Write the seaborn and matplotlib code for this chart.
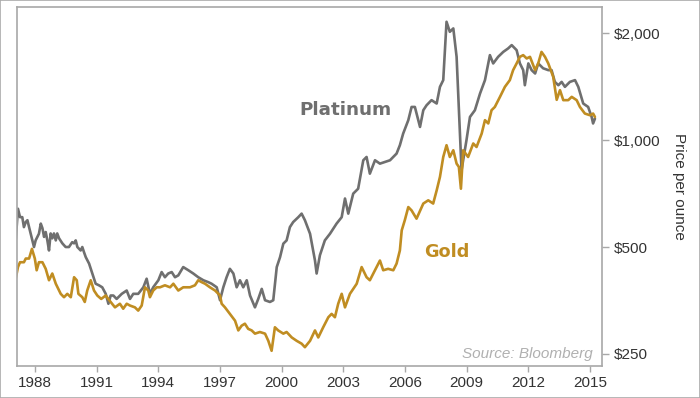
import numpy as np
import pandas as pd
import matplotlib
matplotlib.use("Agg")
import matplotlib.pyplot as plt
import seaborn as sns
from matplotlib.patches import Rectangle
from matplotlib.ticker import NullLocator

# -----------------------------
# Data
# -----------------------------
plat_years = [
    1987.06, 1987.17, 1987.27, 1987.38, 1987.46, 1987.55, 1987.63, 1987.71, 1987.87, 1987.95,
    1988.03, 1988.19, 1988.28, 1988.36, 1988.44, 1988.52, 1988.60, 1988.68, 1988.76, 1988.84,
    1988.92, 1989.01, 1989.08, 1989.17, 1989.33, 1989.49, 1989.65, 1989.81, 1989.90, 1989.98,
    1990.06, 1990.22, 1990.30, 1990.38, 1990.47, 1990.63, 1990.79, 1990.95, 1991.11, 1991.27,
    1991.44, 1991.57, 1991.68, 1991.81, 1991.97, 1992.22, 1992.46, 1992.62, 1992.78, 1993.02,
    1993.27, 1993.43, 1993.59, 1993.75, 1994.00, 1994.16, 1994.32, 1994.48, 1994.65, 1994.81,
    1994.97, 1995.21, 1995.46, 1995.70, 1995.94, 1996.19, 1996.43, 1996.59, 1996.84, 1997.00,
    1997.16, 1997.32, 1997.48, 1997.65, 1997.81, 1997.97, 1998.13, 1998.30, 1998.46, 1998.70,
    1998.86, 1999.03, 1999.19, 1999.43, 1999.59, 1999.76, 1999.92, 2000.08, 2000.24, 2000.40,
    2000.56, 2000.81, 2000.97, 2001.13, 2001.38, 2001.62, 2001.70, 2001.86, 2002.10, 2002.35,
    2002.67, 2002.92, 2003.08, 2003.24, 2003.48, 2003.72, 2003.97, 2004.13, 2004.29, 2004.54,
    2004.78, 2005.02, 2005.27, 2005.59, 2005.75, 2005.91, 2006.16, 2006.32, 2006.48, 2006.73,
    2006.89, 2007.05, 2007.29, 2007.54, 2007.70, 2007.86, 2008.02, 2008.18, 2008.35, 2008.51,
    2008.67, 2008.75, 2008.99, 2009.16, 2009.40, 2009.65, 2009.89, 2010.13, 2010.29, 2010.53,
    2010.78, 2011.02, 2011.19, 2011.43, 2011.59, 2011.75, 2011.83, 2012.00, 2012.16, 2012.33,
    2012.48, 2012.72, 2012.97, 2013.13, 2013.29, 2013.46, 2013.62, 2013.78, 2014.02, 2014.27,
    2014.43, 2014.67, 2014.91, 2015.08, 2015.15, 2015.24,
]
plat_price = [
    522, 641, 607, 607, 569, 588, 595, 569, 522, 500,
    522, 545, 582, 565, 534, 551, 522, 489, 546, 529,
    546, 522, 546, 529, 512, 500, 500, 516, 512, 522,
    500, 489, 500, 484, 468, 449, 421, 394, 390, 385,
    369, 346, 365, 365, 357, 369, 377, 357, 369, 369,
    385, 407, 369, 385, 403, 425, 411, 421, 425, 411,
    416, 439, 430, 421, 411, 403, 398, 394, 385, 354,
    385, 411, 434, 421, 385, 403, 385, 403, 365, 338,
    357, 381, 354, 350, 354, 439, 468, 511, 522, 569,
    588, 607, 621, 595, 545, 458, 421, 474, 522, 545,
    582, 607, 685, 621, 707, 730, 878, 897, 805, 878,
    859, 868, 878, 917, 968, 1044, 1139, 1241, 1241, 1090,
    1215, 1255, 1297, 1269, 1414, 1477, 2157, 2021, 2066, 1718,
    1044, 823, 1000, 1163, 1215, 1354, 1477, 1737, 1646, 1718,
    1774, 1815, 1854, 1794, 1646, 1576, 1429, 1646, 1576, 1542,
    1646, 1595, 1576, 1576, 1460, 1429, 1460, 1414, 1460, 1477,
    1414, 1269, 1241, 1163, 1115, 1150,
]

gold_years = [
    1987.06, 1987.17, 1987.27, 1987.46, 1987.55, 1987.71, 1987.85, 1987.99, 1988.08, 1988.19,
    1988.36, 1988.52, 1988.68, 1988.84, 1989.01, 1989.25, 1989.41, 1989.57, 1989.74, 1989.90,
    1990.03, 1990.11, 1990.30, 1990.42, 1990.54, 1990.71, 1990.87, 1991.03, 1991.22, 1991.44,
    1991.68, 1991.89, 1992.13, 1992.29, 1992.46, 1992.62, 1992.86, 1993.02, 1993.19, 1993.35,
    1993.51, 1993.59, 1993.75, 1993.92, 1994.08, 1994.32, 1994.57, 1994.73, 1994.97, 1995.21,
    1995.54, 1995.78, 1995.94, 1996.11, 1996.27, 1996.51, 1996.76, 1997.00, 1997.08, 1997.24,
    1997.48, 1997.73, 1997.89, 1998.05, 1998.21, 1998.37, 1998.54, 1998.70, 1998.94, 1999.19,
    1999.35, 1999.51, 1999.67, 1999.83, 2000.08, 2000.24, 2000.49, 2000.73, 2000.97, 2001.13,
    2001.38, 2001.62, 2001.78, 2002.02, 2002.27, 2002.43, 2002.59, 2002.75, 2002.92, 2003.08,
    2003.32, 2003.65, 2003.89, 2004.13, 2004.29, 2004.62, 2004.78, 2004.94, 2005.18, 2005.43,
    2005.59, 2005.75, 2005.84, 2005.99, 2006.16, 2006.32, 2006.56, 2006.89, 2007.13, 2007.37,
    2007.54, 2007.70, 2007.86, 2008.02, 2008.18, 2008.35, 2008.51, 2008.62, 2008.72, 2008.83,
    2009.07, 2009.32, 2009.48, 2009.73, 2009.89, 2010.05, 2010.21, 2010.37, 2010.62, 2010.86,
    2011.10, 2011.26, 2011.43, 2011.59, 2011.75, 2011.92, 2012.08, 2012.33, 2012.48, 2012.64,
    2012.81, 2012.97, 2013.21, 2013.38, 2013.54, 2013.70, 2013.94, 2014.11, 2014.35, 2014.51,
    2014.75, 2015.00, 2015.15, 2015.24,
]
gold_price = [
    407, 439, 453, 453, 464, 464, 494, 464, 430, 453,
    453, 434, 403, 421, 394, 369, 361, 369, 361, 411,
    403, 369, 361, 350, 377, 403, 377, 365, 357, 365,
    350, 338, 346, 335, 346, 342, 338, 331, 342, 385,
    377, 361, 377, 385, 385, 390, 385, 394, 377, 385,
    385, 390, 403, 398, 394, 385, 377, 365, 346, 338,
    324, 310, 291, 300, 304, 294, 291, 285, 288, 285,
    272, 255, 297, 291, 285, 288, 278, 272, 267, 261,
    272, 291, 278, 297, 317, 324, 317, 346, 369, 338,
    369, 394, 439, 411, 403, 439, 458, 430, 434, 430,
    449, 489, 557, 595, 648, 634, 601, 663, 677, 663,
    722, 788, 897, 968, 897, 937, 859, 841, 730, 937,
    897, 979, 957, 1044, 1139, 1115, 1215, 1241, 1325, 1414,
    1477, 1576, 1646, 1718, 1737, 1700, 1718, 1576, 1646, 1774,
    1718, 1646, 1509, 1300, 1384, 1297, 1297, 1325, 1297, 1241,
    1189, 1176, 1189, 1163,
]

year_ticks = [1988, 1991, 1994, 1997, 2000, 2003, 2006, 2009, 2012, 2015]
price_ticks = [250, 500, 1000, 2000]
price_labels = ["$250", "$500", "$1,000", "$2,000"]

plat_df = pd.DataFrame({"year": plat_years, "price": plat_price})
gold_df = pd.DataFrame({"year": gold_years, "price": gold_price})

# -----------------------------
# Style
# -----------------------------
sns.set_style("white")
plt.rcParams["font.family"] = ["Liberation Sans", "DejaVu Sans"]

PLAT_C = "#6f6f6f"
GOLD_C = "#c08d22"
SPINE_C = "#a8a8a8"
TEXT_C = "#333333"

fig = plt.figure(figsize=(7, 3.98), dpi=100)
ax = fig.add_axes([0.0239, 0.0804, 0.8357, 0.902])

sns.lineplot(data=plat_df, x="year", y="price", ax=ax, color=PLAT_C, lw=1.9)
sns.lineplot(data=gold_df, x="year", y="price", ax=ax, color=GOLD_C, lw=1.9)

ax.set_yscale("log")
ax.set_xlim(1987.11, 2015.57)
ax.set_ylim(231, 2374)
ax.yaxis.set_minor_locator(NullLocator())
ax.set_yticks(price_ticks)
ax.set_yticklabels(price_labels)
ax.set_xticks(year_ticks)
ax.set_xticklabels([str(y) for y in year_ticks])

for s in ax.spines.values():
    s.set_visible(True)
    s.set_color(SPINE_C)
    s.set_linewidth(1.2)

ax.tick_params(axis="y", left=False, right=True, labelleft=False, labelright=True,
               length=5, width=1, color=SPINE_C, labelsize=11, labelcolor=TEXT_C, pad=4)
ax.tick_params(axis="x", bottom=True, length=4, width=1, color=SPINE_C,
               labelsize=11, labelcolor=TEXT_C, pad=3)

ax.yaxis.set_label_position("right")
ax.set_ylabel("Price per ounce", rotation=270, fontsize=11, color=TEXT_C, labelpad=18)
ax.set_xlabel("")

ax.text(2000.84, 1215, "Platinum", fontsize=13.2, fontweight="bold", color=PLAT_C,
        family="DejaVu Sans", va="center", ha="left")
ax.text(2006.95, 484, "Gold", fontsize=12.8, fontweight="bold", color=GOLD_C,
        family="DejaVu Sans", va="center", ha="left")
ax.text(0.985, 0.015, "Source: Bloomberg", transform=ax.transAxes, fontsize=11,
        style="italic", color="#b0b0b0", ha="right", va="bottom")

fig.patches.append(Rectangle((0.0007, 0.0012), 0.9986, 0.9976, transform=fig.transFigure,
                             fill=False, edgecolor="#aaaaaa", lw=1.2))

fig.savefig("out.png", dpi=100)
